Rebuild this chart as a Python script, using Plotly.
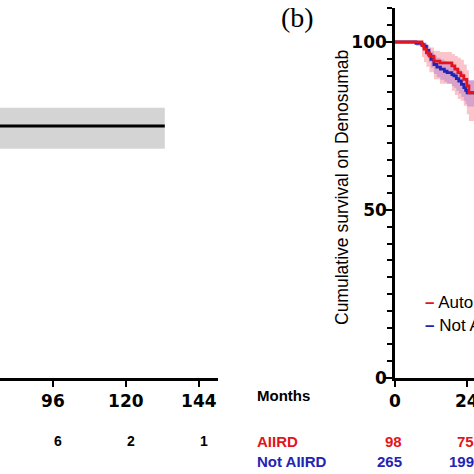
import plotly.graph_objects as go

# panel (a) - tail of the overall curve
a_months = [78.6, 132.8]
a_surv = [75, 75]
a_upper = [80.4, 80.4]
a_lower = [68.2, 68.2]
a_tick_months = [96, 120, 144]
a_at_risk = [6, 2, 1]

# panel (b) - AIIRD vs not AIIRD
red_t = [0, 9, 9.7, 10.5, 11.5, 13, 15, 19, 20, 21, 22, 23, 24, 24.7]
red_s = [100, 98.9, 97.9, 96.8, 95.8, 94.3, 93.8, 92.9, 91.9, 90.9, 90, 88.9, 86.9, 84.9]
red_hi = [100, 100, 99.6, 99.0, 98.4, 97.4, 97.0, 96.4, 95.8, 95.3, 94.7, 93.3, 91.6, 88.5]
red_lo = [100, 95.5, 94.0, 92.6, 91.0, 88.9, 87.6, 85.5, 84.2, 83.0, 82.5, 81.0, 78.5, 76.5]

blue_t = [0, 7, 9, 9.7, 10.5, 11.3, 12, 13, 14, 15.2, 16.5, 17.4, 19, 19.7, 20.5, 21.3, 22.2, 23, 23.6, 24.1]
blue_s = [100, 99.6, 99.2, 98.8, 97.5, 96.2, 94.8, 93.3, 92.5, 91.9, 91.3, 90.9, 90.3, 89.9, 89.1, 88.4, 87.4, 86.4, 85.6, 84.9]
blue_hi = [100, 100, 100, 99.9, 99.2, 98.3, 97.2, 96.0, 95.3, 94.8, 94.3, 94.0, 93.5, 93.1, 92.4, 91.8, 90.9, 90.0, 89.3, 88.7]
blue_lo = [100, 98.8, 98.1, 97.5, 95.7, 94.0, 92.3, 90.5, 89.5, 88.8, 88.1, 87.6, 86.9, 86.4, 85.5, 84.7, 83.6, 82.5, 81.6, 80.8]

b_tick_months = [0, 24]
aiird_at_risk = [98, 75]
not_aiird_at_risk = [265, 199]

RED = "#e3141b"
BLUE = "#2323b4"
XMAX_B = 26.4

W = H = 474
def px_x(p):
    return p / W
def px_y(p):
    return (H - p) / H


def ext(t, v):
    # carry last value to right edge
    return t + [XMAX_B], v + [v[-1]]


fig = go.Figure()

# panel a
fig.add_trace(go.Scatter(x=a_months, y=a_lower, mode="lines", line=dict(width=0),
                         xaxis="x", yaxis="y", showlegend=False))
fig.add_trace(go.Scatter(x=a_months, y=a_upper, mode="lines", line=dict(width=0),
                         fill="tonexty", fillcolor="#d4d4d4",
                         xaxis="x", yaxis="y", showlegend=False))
fig.add_trace(go.Scatter(x=a_months, y=a_surv, mode="lines", line=dict(color="black", width=3),
                         xaxis="x", yaxis="y", showlegend=False))

# panel b bands
for t, lo, hi, col in [(blue_t, blue_lo, blue_hi, "rgba(90,90,255,0.30)"),
                       (red_t, red_lo, red_hi, "rgba(240,60,80,0.30)")]:
    tx, lo2 = ext(t, lo)
    _, hi2 = ext(t, hi)
    fig.add_trace(go.Scatter(x=tx, y=lo2, mode="lines", line=dict(width=0, shape="hv"),
                             xaxis="x2", yaxis="y2", showlegend=False))
    fig.add_trace(go.Scatter(x=tx, y=hi2, mode="lines", line=dict(width=0, shape="hv"),
                             fill="tonexty", fillcolor=col,
                             xaxis="x2", yaxis="y2", showlegend=False))

for t, s, col in [(blue_t, blue_s, BLUE), (red_t, red_s, RED)]:
    tx, s2 = ext(t, s)
    fig.add_trace(go.Scatter(x=tx, y=s2, mode="lines", line=dict(color=col, width=2.8, shape="hv"),
                             xaxis="x2", yaxis="y2", showlegend=False))

tickfont = dict(family="DejaVu Sans", size=17, color="black", weight="bold")
ydom = [px_y(378), px_y(8.4)]
axline = dict(showgrid=False, zeroline=False, showline=True, linecolor="black", linewidth=2.5,
              ticks="outside", tickwidth=2, tickcolor="black", tickfont=tickfont,
              automargin=False, ticklabeloverflow="allow")

fig.update_layout(
    width=W, height=H, margin=dict(l=0, r=0, t=0, b=0, autoexpand=False),
    paper_bgcolor="white", plot_bgcolor="white",
    xaxis=dict(axline, domain=[0, px_x(218)], range=[78.6, 150.3], tick0=0, dtick=24, ticklen=6),
    yaxis=dict(domain=ydom, range=[0, 110], visible=False, automargin=False),
    xaxis2=dict(axline, domain=[px_x(395), 1], range=[0, XMAX_B], tick0=0, dtick=24,
                anchor="y2", ticklen=6),
    yaxis2=dict(axline, domain=ydom, range=[0, 110], anchor="x2", tickvals=[0, 50, 100], ticklen=7,
                ticklabelstandoff=-5,
                minor=dict(dtick=5, tick0=0, ticks="outside", ticklen=5, tickwidth=1.5, tickcolor="black")),
)

ann = []
num_font = dict(family="Liberation Sans", size=14, color="black", weight="bold")
for m, n in zip(a_tick_months, a_at_risk):
    ann.append(dict(x=m, y=px_y(441), xref="x", yref="paper", text=str(n), showarrow=False,
                    xanchor="right", yanchor="middle", xshift=11, font=num_font))
for m, n in zip(b_tick_months, aiird_at_risk):
    ann.append(dict(x=m, y=px_y(441), xref="x2", yref="paper", text=str(n), showarrow=False,
                    xanchor="right", yanchor="middle", xshift=9, font=dict(num_font, size=15, color=RED)))
for m, n in zip(b_tick_months, not_aiird_at_risk):
    ann.append(dict(x=m, y=px_y(461), xref="x2", yref="paper", text=str(n), showarrow=False,
                    xanchor="right", yanchor="middle", xshift=9, font=dict(num_font, size=15, color=BLUE)))

lab = dict(xref="paper", yref="paper", showarrow=False, xanchor="left", yanchor="middle")
ann += [
    dict(lab, x=px_x(255), y=px_y(395), text="Months",
         font=dict(family="Liberation Sans", size=15, color="black", weight="bold")),
    dict(lab, x=px_x(255), y=px_y(441), text="AIIRD",
         font=dict(family="Liberation Sans", size=15, color=RED, weight="bold")),
    dict(lab, x=px_x(255), y=px_y(461), text="Not AIIRD",
         font=dict(family="Liberation Sans", size=15, color=BLUE, weight="bold")),
    dict(lab, x=px_x(342), y=px_y(188), xanchor="center", text="Cumulative survival on Denosumab",
         textangle=-90, font=dict(family="Liberation Sans", size=17.5, color="black")),
    dict(lab, x=px_x(297), y=px_y(18), xanchor="center", text="(b)",
         font=dict(family="Liberation Serif", size=28, color="black")),
    dict(lab, x=px_x(423), y=px_y(302),
         text="<span style='color:%s'><b>–</b></span> Autoimmune inflammatory rheumatic disease" % RED,
         font=dict(family="Liberation Sans", size=17, color="black")),
    dict(lab, x=px_x(423), y=px_y(325),
         text="<span style='color:%s'><b>–</b></span> Not AIIRD" % BLUE,
         font=dict(family="Liberation Sans", size=17, color="black")),
]
fig.update_layout(annotations=ann)

fig.write_html("out.html", config=dict(displayModeBar=False),
               post_script="document.body.style.margin='0';")
